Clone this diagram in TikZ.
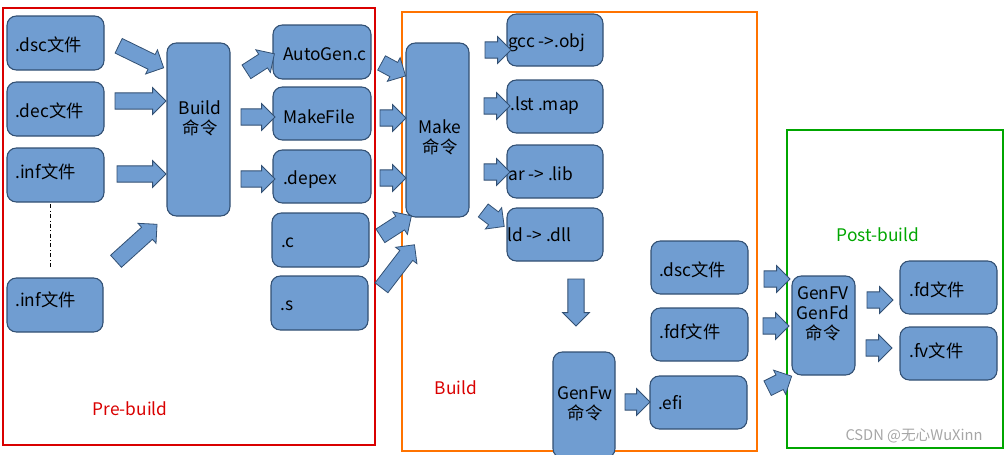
\documentclass[tikz,border=0pt]{standalone}
\usepackage{fontspec}
\setmainfont{Noto Sans CJK SC}
\usetikzlibrary{shapes.arrows,calc}
\definecolor{bf}{RGB}{112,157,209}
\definecolor{bd}{RGB}{50,80,115}
\tikzset{
 box/.style={draw=bd,fill=bf,rounded corners=7pt,line width=0.8pt,inner sep=0pt},
 lbl/.style={font=\fontsize{13pt}{15pt}\selectfont,inner sep=0pt,align=left},
 blk/.style={single arrow,draw=bd,fill=bf,line width=0.6pt,inner sep=4pt,single arrow head extend=4pt,single arrow head indent=0pt,shape border uses incircle}
}
\newcommand{\bx}[6]{\node[box,minimum width={(#4-#2)*0.75pt},minimum height={(#5-#3)*0.75pt}] (#1) at ({(#2+#4)/2},{(#3+#5)/2}) {};}
\newcommand{\barr}[4]{\path let \p1=(#1,#2), \p2=(#3,#4), \n1={atan2(\y2-\y1,\x2-\x1)}, \n2={veclen(\x2-\x1,\y2-\y1)} in node[blk,minimum height=\n2,rotate=\n1] at ($(\p1)!0.5!(\p2)$) {};}
\begin{document}
\begin{tikzpicture}[x=0.75pt,y=-0.75pt]
\useasboundingbox (0,0) rectangle (1008,454);
% frames
\draw[red!85!black,line width=1.6pt] (3,8) rectangle (375,445);
\draw[orange!90!red,line width=1.6pt] (402,12) rectangle (757,451);
\draw[green!65!black,line width=1.6pt] (787,130) rectangle (1003,448);
% boxes
\bx{dsc}{7}{16}{104}{70}{}
\bx{dec}{7}{82}{104}{136}{}
\bx{infa}{7}{148}{104}{202}{}
\bx{infb}{7}{278}{103}{332}{}
\bx{build}{167}{43}{230}{216}{}
\bx{auto}{273}{25}{371}{79}{}
\bx{mk}{273}{87}{371}{140}{}
\bx{dep}{273}{150}{371}{203}{}
\bx{c}{272}{213}{369}{267}{}
\bx{s}{271}{276}{368}{330}{}
\bx{make}{406}{43}{469}{217}{}
\bx{gcc}{507}{14}{603}{66}{}
\bx{lst}{507}{80}{603}{133}{}
\bx{ar}{507}{145}{603}{198}{}
\bx{ld}{507}{208}{603}{261}{}
\bx{genfw}{553}{352}{615}{458}{}
\bx{dscb}{651}{241}{748}{294}{}
\bx{fdf}{651}{308}{748}{361}{}
\bx{efi}{650}{376}{747}{429}{}
\bx{genfv}{792}{276}{855}{375}{}
\bx{fd}{900}{261}{997}{314}{}
\bx{fv}{900}{327}{997}{380}{}
% texts
\node[lbl,anchor=west] at (15,45) {.dsc文件};
\node[lbl,anchor=west] at (15,111) {.dec文件};
\node[lbl,anchor=west] at (15,172) {.inf文件};
\node[lbl,anchor=west] at (15,300) {.inf文件};
\node[lbl,align=center] at (200,118) {Build\\命令};
\begin{scope}
\clip (273,25) rectangle (373,79);
\node[lbl,anchor=west] at (283,54) {AutoGen.c};
\end{scope}
\node[lbl,anchor=west] at (283,117) {MakeFile};
\node[lbl,anchor=west] at (283,180) {.depex};
\node[lbl,anchor=west] at (281,243) {.c};
\node[lbl,anchor=west] at (280,306) {.s};
\node[lbl,align=center] at (440,137) {Make\\命令};
\node[lbl,anchor=west] at (508,43) {gcc ->.obj};
\node[lbl,anchor=west] at (510,106) {.lst .map};
\node[lbl,anchor=west] at (508,174) {ar -> .lib};
\node[lbl,anchor=west] at (507,235) {ld -> .dll};
\node[lbl,align=center] at (585,404) {GenFw\\命令};
\node[lbl,anchor=west] at (659,270) {.dsc文件};
\node[lbl,anchor=west] at (659,332) {.fdf文件};
\node[lbl,anchor=west] at (658,403) {.efi};
\node[lbl,align=center] at (823,314) {GenFV\\GenFd\\命令};
\node[lbl,anchor=west] at (909,290) {.fd文件};
\node[lbl,anchor=west] at (909,351) {.fv文件};
\node[lbl,text=red!85!black] at (130,409) {Pre-build};
\node[lbl,text=red!85!black] at (456,388) {Build};
\node[lbl,text=green!65!black] at (878,235) {Post-build};
\node[lbl,text=gray!70,font=\fontsize{11pt}{13pt}\selectfont] at (914,436) {CSDN @无心WuXinn};
% dash-dot
\draw[dash dot,line width=0.5pt] (50,204) -- (50,268);
% block arrows
\barr{115}{44}{160}{66}
\barr{111}{101}{162}{101}
\barr{113}{174}{162}{174}
\barr{113}{264}{154}{227}
\barr{243}{74}{271}{56}
\barr{237}{117}{271}{117}
\barr{237}{179}{271}{179}
\barr{378}{61}{402}{74}
\barr{376}{118}{402}{118}
\barr{376}{178}{402}{178}
\barr{377}{238}{408}{218}
\barr{379}{291}{412}{248}
\barr{481}{50}{507}{50}
\barr{480}{106}{506}{106}
\barr{480}{172}{506}{172}
\barr{480}{208}{501}{224}
\barr{576}{275}{576}{322}
\barr{621}{402}{646}{402}
\barr{760}{279}{786}{279}
\barr{759}{326}{785}{326}
\barr{764}{390}{788}{378}
\barr{863}{300}{889}{300}
\barr{862}{348}{888}{348}
\end{tikzpicture}
\end{document}
